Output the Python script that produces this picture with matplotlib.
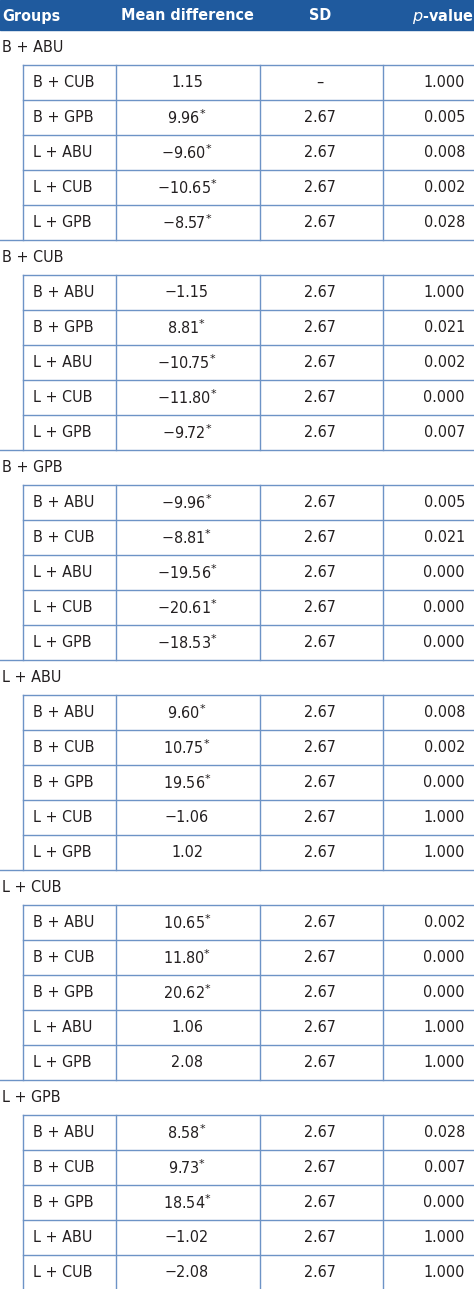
import matplotlib.pyplot as plt

groups = ['B + ABU', 'B + CUB', 'B + GPB', 'L + ABU', 'L + CUB', 'L + GPB']
comparisons = [
    ['B + CUB', 'B + GPB', 'L + ABU', 'L + CUB', 'L + GPB'],
    ['B + ABU', 'B + GPB', 'L + ABU', 'L + CUB', 'L + GPB'],
    ['B + ABU', 'B + CUB', 'L + ABU', 'L + CUB', 'L + GPB'],
    ['B + ABU', 'B + CUB', 'B + GPB', 'L + CUB', 'L + GPB'],
    ['B + ABU', 'B + CUB', 'B + GPB', 'L + ABU', 'L + GPB'],
    ['B + ABU', 'B + CUB', 'B + GPB', 'L + ABU', 'L + CUB'],
]
mean_diff = [
    [1.15, 9.96, -9.60, -10.65, -8.57],
    [-1.15, 8.81, -10.75, -11.80, -9.72],
    [-9.96, -8.81, -19.56, -20.61, -18.53],
    [9.60, 10.75, 19.56, -1.06, 1.02],
    [10.65, 11.80, 20.62, 1.06, 2.08],
    [8.58, 9.73, 18.54, -1.02, -2.08],
]
significant = [
    [0, 1, 1, 1, 1],
    [0, 1, 1, 1, 1],
    [1, 1, 1, 1, 1],
    [1, 1, 1, 0, 0],
    [1, 1, 1, 0, 0],
    [1, 1, 1, 0, 0],
]
sd = [
    ['–', '2.67', '2.67', '2.67', '2.67'],
    ['2.67'] * 5, ['2.67'] * 5, ['2.67'] * 5, ['2.67'] * 5, ['2.67'] * 5,
]
p_values = [
    ['1.000', '0.005', '0.008', '0.002', '0.028'],
    ['1.000', '0.021', '0.002', '0.000', '0.007'],
    ['0.005', '0.021', '0.000', '0.000', '0.000'],
    ['0.008', '0.002', '0.000', '1.000', '1.000'],
    ['0.002', '0.000', '0.000', '1.000', '1.000'],
    ['0.028', '0.007', '0.000', '1.000', '1.000'],
]
headers = ['Groups', 'Mean difference', 'SD', '$\\it{p}$-value']

W, H = 474, 1289
fig = plt.figure(figsize=(W / 100, H / 100), dpi=100)
ax = fig.add_axes([0, 0, 1, 1])
ax.set_xlim(0, W)
ax.set_ylim(H, 0)
ax.axis('off')

font = dict(family='DejaVu Sans', fontstretch='condensed', color='#231f20')
line_c = '#6d93c6'
hdr_h, row_h = 30, 35
col_lines = [23, 116, 260, 383]
fs = 11.5

ax.add_patch(plt.Rectangle((0, 0), W, hdr_h, color='#1f5a9e', zorder=0))
hx = [2, 187, 320, 474]
ha = ['left', 'center', 'center', 'right']
for t, x, a in zip(headers, hx, ha):
    ax.text(x, hdr_h / 2 + 1, t, ha=a, va='center', fontsize=11.5,
            fontweight='bold', color='white', family='DejaVu Sans',
            fontstretch='condensed')

def fmt(v):
    s = f'{abs(v):.2f}'
    return ('−' + s) if v < 0 else s

y = hdr_h
for g in range(len(groups)):
    ax.text(2, y + row_h / 2, groups[g], ha='left', va='center', fontsize=fs, **font)
    y += row_h
    top = y
    for r in range(5):
        ax.plot([23, W], [y, y], color=line_c, lw=1)
        cy = y + row_h / 2
        ax.text(33, cy, comparisons[g][r], ha='left', va='center', fontsize=fs, **font)
        star = '$^{*}$' if significant[g][r] else ''
        ax.text(187, cy, fmt(mean_diff[g][r]) + star, ha='center', va='center', fontsize=fs, **font)
        ax.text(320, cy, sd[g][r], ha='center', va='center', fontsize=fs, **font)
        ax.text(465, cy, p_values[g][r], ha='right', va='center', fontsize=fs, **font)
        y += row_h
    for x in col_lines:
        ax.plot([x, x], [top, y], color=line_c, lw=1)
    ax.plot([0, W], [y, y], color=line_c, lw=1)

fig.savefig('out.png', dpi=100)
